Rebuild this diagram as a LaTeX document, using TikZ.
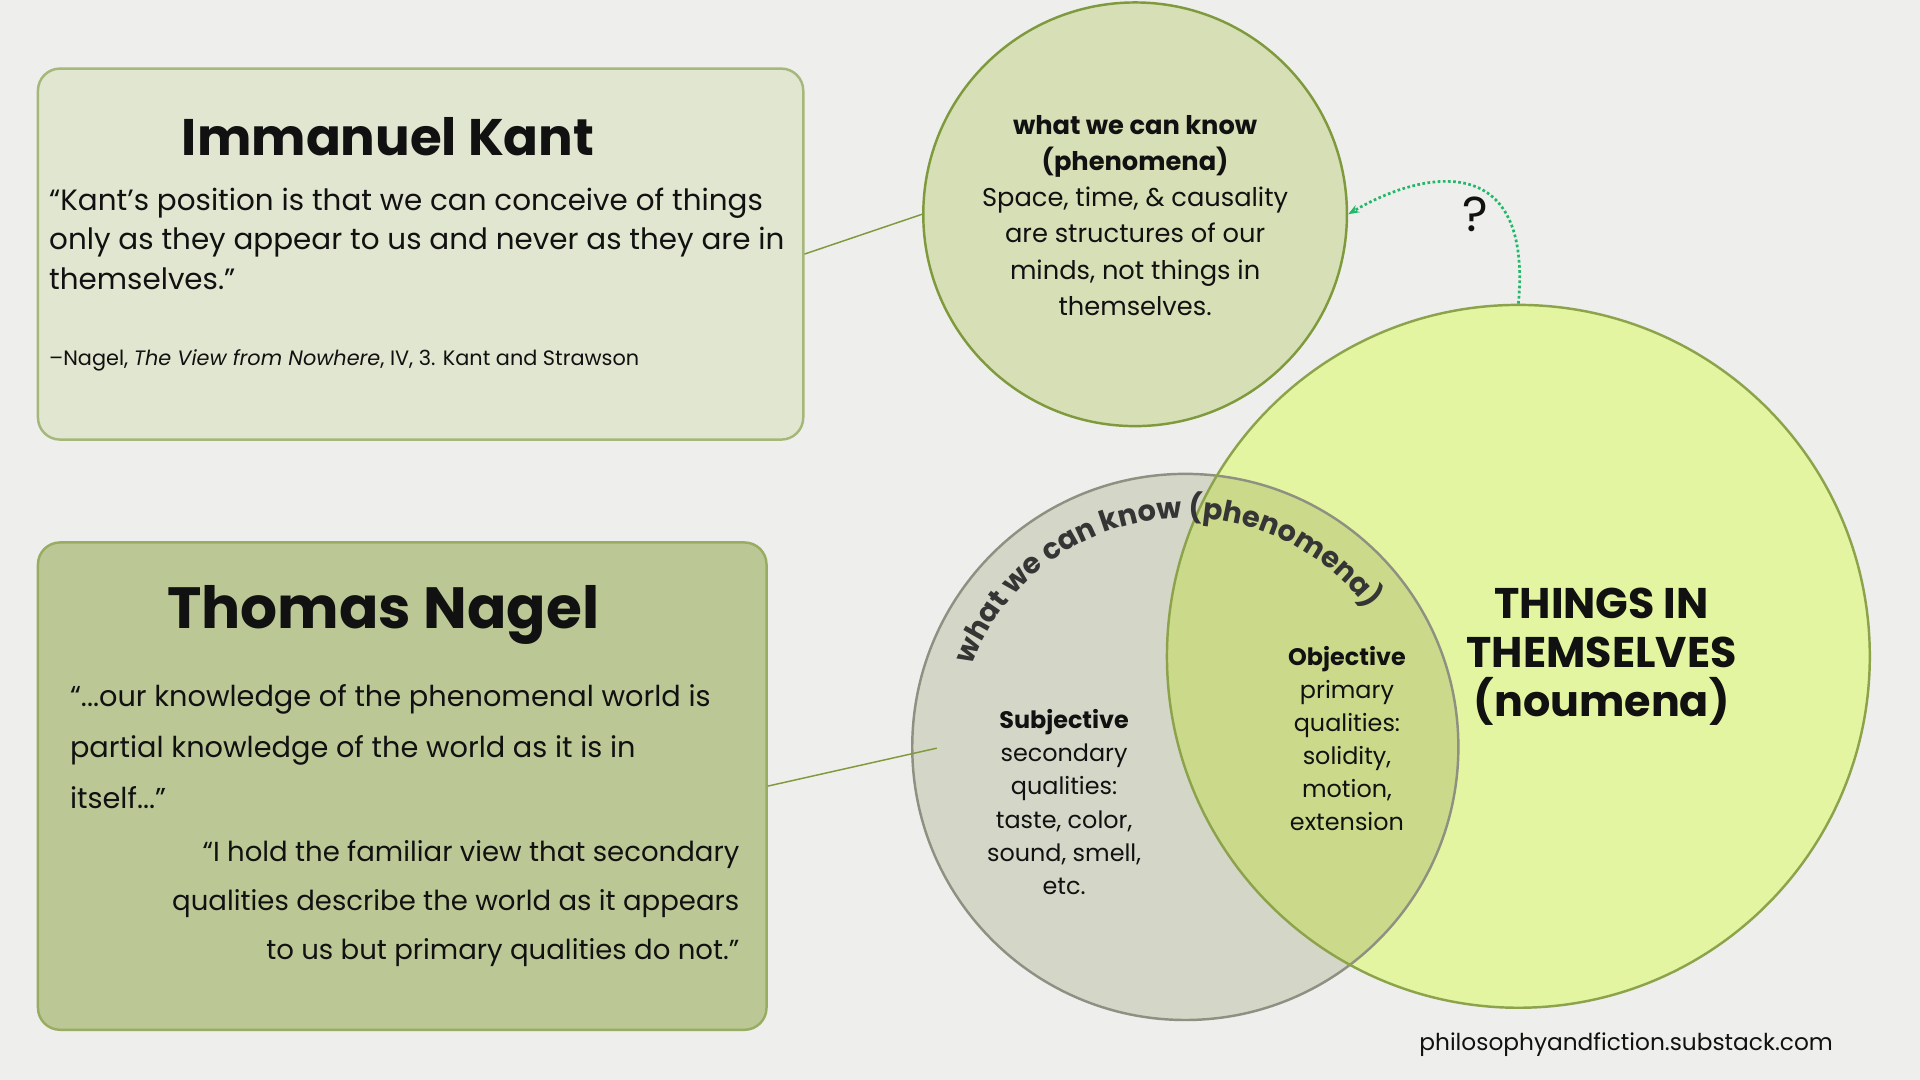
\documentclass[tikz,border=0pt]{standalone}
\usepackage{fontspec}
\setmainfont{Poppins}
\usetikzlibrary{decorations.text,arrows.meta}
\definecolor{bg}{HTML}{EEEEEC}
\definecolor{kantfill}{HTML}{E0E6CF}
\definecolor{kantline}{HTML}{A6B77A}
\definecolor{nagelfill}{HTML}{BBC896}
\definecolor{nagelline}{HTML}{98AC62}
\definecolor{topfill}{HTML}{D6DFB6}
\definecolor{topline}{HTML}{7F9A3C}
\definecolor{grayfill}{HTML}{D4D6C7}
\definecolor{grayline}{HTML}{8E9082}
\definecolor{bigfill}{HTML}{E3F5A0}
\definecolor{bigline}{HTML}{8CA34C}
\definecolor{overlap}{HTML}{CADA8A}
\definecolor{arrowgreen}{HTML}{22B86A}
\definecolor{ink}{HTML}{111111}
\tikzset{
 box/.style={rounded corners=18pt, line width=2pt, anchor=north west, inner sep=0pt},
 ring/.style={circle, inner sep=0pt},
 txt/.style={text=ink, inner sep=0pt},
 conn/.style={draw=topline, line width=1.2pt}
}
\begin{document}
\begin{tikzpicture}[x=1pt,y=-1pt]
\fill[bg] (0,0) rectangle (1568,882);
\useasboundingbox (0,0) rectangle (1568,882);
% boxes
\node[box, fill=kantfill, draw=kantline, minimum width=625pt, minimum height=303pt] (kant) at (30,55) {};
\node[box, fill=nagelfill, draw=nagelline, minimum width=595pt, minimum height=398pt] (nagel) at (30,442) {};
% circles
\node[ring, fill=topfill, draw=topline, line width=2pt, minimum size=346pt] (top) at (927,175) {};
\fill[grayfill] (968,610) circle (223);
\fill[bigfill] (1240,536) circle (287);
\begin{scope}
\clip (968,610) circle (223);
\fill[overlap] (1240,536) circle (287);
\end{scope}
\node[ring, draw=grayline, line width=2pt, minimum size=446pt] (gray) at (968,610) {};
\node[ring, draw=bigline, line width=2pt, minimum size=574pt] (big) at (1240,536) {};
% connectors
\coordinate (grayin) at (765,611);
\draw[conn] (kant.east) -- (top.west);
\draw[conn] (nagel.east) -- (grayin);
\draw[arrowgreen, line width=2.2pt, dotted, -{Stealth[length=9pt]}] (big.north) .. controls (1252,120) and (1160,140) .. (top.east);
\node[txt, font=\fontsize{40}{40}\selectfont] (q) at (1205,175) {?};
% Kant text
\node[txt, font=\fontsize{42}{42}\selectfont\bfseries] (kt) at (317,112) {Immanuel Kant};
\node[txt, anchor=north west, align=left, font=\fontsize{24}{32.5}\selectfont] (kq) at (40,153)
 {“Kant’s position is that we can conceive of things\\only as they appear to us and never as they are in\\themselves.”};
\node[txt, anchor=west, font=\fontsize{17}{17}\selectfont] (kc) at (40,294) {–Nagel, \textit{The View from Nowhere}, IV, 3. Kant and Strawson};
% Nagel text
\node[txt, font=\fontsize{47.5}{47.5}\selectfont\bfseries] (nt) at (313,502) {Thomas Nagel};
\node[txt, anchor=north west, align=left, font=\fontsize{23.5}{41.5}\selectfont] (nq1) at (57,559)
 {“...our knowledge of the phenomenal world is\\partial knowledge of the world as it is in\\itself...”};
\node[txt, anchor=north east, align=right, font=\fontsize{22.5}{40}\selectfont] (nq2) at (604,686)
 {“I hold the familiar view that secondary\\qualities describe the world as it appears\\to us but primary qualities do not.”};
% top circle text
\node[txt, align=center, font=\fontsize{21}{29.5}\selectfont] (tt) at (927,176)
 {\textbf{what we can know}\\\textbf{(phenomena)}\\Space, time, \& causality\\are structures of our\\minds, not things in\\themselves.};
% curved label
\begin{scope}[shift={(968,610)}, y=1pt]
\path[decorate, decoration={text along path, text align=center,
  text={|\fontsize{23.5}{23.5}\selectfont\bfseries\color{ink!85}|what we can know (phenomena)}}]
  (163:187) arc[start angle=163, end angle=33, radius=187];
\end{scope}
% gray circle text
\node[txt, align=center, font=\fontsize{19.5}{27}\selectfont] (st) at (869,655)
 {\textbf{Subjective}\\secondary\\qualities:\\taste, color,\\sound, smell,\\etc.};
\node[txt, align=center, font=\fontsize{19.5}{27}\selectfont] (ot) at (1100,603)
 {\textbf{Objective}\\primary\\qualities:\\solidity,\\motion,\\extension};
\node[txt, align=center, font=\fontsize{35}{40}\selectfont\bfseries] (th) at (1308,536)
 {THINGS IN\\THEMSELVES\\(noumena)};
\node[txt, font=\fontsize{19}{19}\selectfont] (ft) at (1328,853) {philosophyandfiction.substack.com};
\end{tikzpicture}
\end{document}
